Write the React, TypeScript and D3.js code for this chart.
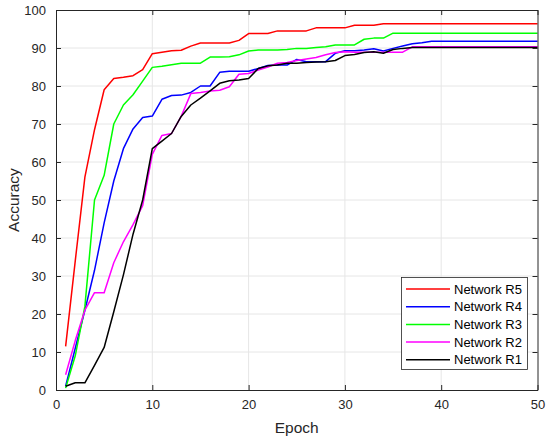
import React, { useRef, useEffect } from 'react';
import * as d3 from 'd3';

const epochs = d3.range(1, 51);

const r5 = [11.5, 34, 56, 68.5, 79, 82, 82.3, 82.7, 84.3, 88.5, 88.9, 89.3, 89.4, 90.5, 91.3, 91.3, 91.3, 91.3, 92, 93.8,
  93.8, 93.8, 94.5, 94.5, 94.5, 94.5, 95.3, 95.3, 95.3, 95.3, 96, 96, 96, 96.4, 96.4, 96.4, 96.4, 96.4, 96.4, 96.4,
  96.4, 96.4, 96.4, 96.4, 96.4, 96.4, 96.4, 96.4, 96.4, 96.4];
const r4 = [1, 11, 21, 31.5, 44, 55, 63.5, 68.7, 71.7, 72.1, 76.5, 77.5, 77.6, 78.3, 80, 80, 83.6, 83.9, 83.9, 83.9,
  84.6, 85.4, 85.5, 85.5, 87, 86.4, 86.4, 86.4, 88.6, 89.3, 89.3, 89.5, 89.8, 89.2, 89.9, 90.5, 91.1, 91.4, 91.8, 91.8,
  91.8, 91.8, 91.8, 91.8, 91.8, 91.8, 91.8, 91.8, 91.8, 91.8];
const r3 = [0.5, 9, 22, 50, 56.5, 70, 75, 77.7, 81.3, 84.9, 85.2, 85.6, 86, 86, 86, 87.6, 87.6, 87.7, 88.2, 89.2,
  89.5, 89.5, 89.5, 89.6, 89.9, 89.9, 90.1, 90.3, 90.8, 90.8, 90.8, 92.3, 92.6, 92.6, 93.9, 93.9, 93.9, 93.9, 93.9, 93.9,
  93.9, 93.9, 93.9, 93.9, 93.9, 93.9, 93.9, 93.9, 93.9, 93.9];
const r2 = [4, 13, 21, 25.6, 25.6, 33.5, 39, 43.5, 48.5, 62, 67, 67.5, 72, 78, 78.3, 78.7, 78.9, 79.8, 83.1, 83.3,
  84.2, 85, 86, 86.2, 86.7, 87.1, 87.5, 88.2, 88.8, 89, 88.9, 88.9, 88.9, 88.9, 88.9, 88.9, 90.3, 90.3, 90.3, 90.3,
  90.3, 90.3, 90.3, 90.3, 90.3, 90.3, 90.3, 90.3, 90.3, 90.3];
const r1 = [1, 1.9, 1.9, 6.5, 11.2, 20.6, 30.3, 41, 50, 63.5, 65.5, 67.5, 72, 75, 76.8, 78.7, 80.7, 81.4, 81.6, 82,
  84.6, 85.3, 85.5, 86, 86, 86.2, 86.3, 86.4, 86.7, 88, 88.3, 88.8, 89, 88.6, 89.6, 89.9, 90.1, 90.1, 90.1, 90.1,
  90.1, 90.1, 90.1, 90.1, 90.1, 90.1, 90.1, 90.1, 90.1, 90.1];

const seriesNames = ['Network R5', 'Network R4', 'Network R3', 'Network R2', 'Network R1'];
const seriesValues = [r5, r4, r3, r2, r1];
const seriesColors = ['#ff0000', '#0000ff', '#00ff00', '#ff00ff', '#000000'];

const xTicks = [0, 10, 20, 30, 40, 50];
const yTicks = d3.range(0, 101, 10);

const FONT = '"Liberation Sans", Arial, Helvetica, sans-serif';
const AXIS = '#262626';

export default function App() {
  const ref = useRef<SVGSVGElement | null>(null);

  useEffect(() => {
    const svg = d3.select(ref.current);
    svg.selectAll('*').remove();

    const W = 550;
    const H = 443;
    const margin = { top: 10, right: 12.5, bottom: 53, left: 56 };
    const width = W - margin.left - margin.right;
    const height = H - margin.top - margin.bottom;

    const x = d3.scaleLinear().domain([0, 50]).range([0, width]);
    const y = d3.scaleLinear().domain([0, 100]).range([height, 0]);

    svg.attr('width', W).attr('height', H);
    svg.append('rect').attr('width', W).attr('height', H).attr('fill', '#fff');

    const chart = svg.append('g').attr('transform', `translate(${margin.left},${margin.top})`);

    // grid
    chart.append('g')
      .selectAll('line')
      .data(xTicks.slice(1, -1))
      .join('line')
      .attr('x1', d => x(d)).attr('x2', d => x(d))
      .attr('y1', 0).attr('y2', height)
      .attr('stroke', '#e6e6e6');
    chart.append('g')
      .selectAll('line')
      .data(yTicks.slice(1, -1))
      .join('line')
      .attr('y1', d => y(d)).attr('y2', d => y(d))
      .attr('x1', 0).attr('x2', width)
      .attr('stroke', '#e6e6e6');

    // lines
    const line = d3.line<number>()
      .x((_, i) => x(epochs[i]))
      .y(d => y(d));
    seriesValues.forEach((vals, i) => {
      chart.append('path')
        .attr('d', line(vals))
        .attr('fill', 'none')
        .attr('stroke', seriesColors[i])
        .attr('stroke-width', 1.5)
        .attr('stroke-linejoin', 'round');
    });

    // axes box with inward ticks on every side
    const tickLen = 5;
    const bottom = chart.append('g').attr('transform', `translate(0,${height})`)
      .call(d3.axisBottom(x).tickValues(xTicks).tickSizeInner(-tickLen).tickSizeOuter(0).tickPadding(10));
    const top = chart.append('g')
      .call(d3.axisTop(x).tickValues(xTicks).tickSizeInner(-tickLen).tickSizeOuter(0).tickFormat(() => ''));
    const left = chart.append('g')
      .call(d3.axisLeft(y).tickValues(yTicks).tickSizeInner(-tickLen).tickSizeOuter(0).tickPadding(10));
    const right = chart.append('g').attr('transform', `translate(${width},0)`)
      .call(d3.axisRight(y).tickValues(yTicks).tickSizeInner(-tickLen).tickSizeOuter(0).tickFormat(() => ''));
    [bottom, top, left, right].forEach(g => {
      g.select('.domain').attr('stroke', AXIS);
      g.selectAll('.tick line').attr('stroke', AXIS);
      g.selectAll('.tick text')
        .attr('fill', AXIS)
        .attr('font-family', FONT)
        .attr('font-size', 13);
    });

    // axis labels
    svg.append('text')
      .attr('x', margin.left + width / 2)
      .attr('y', 433)
      .attr('text-anchor', 'middle')
      .attr('font-family', FONT)
      .attr('font-size', 15.5)
      .attr('fill', AXIS)
      .text('Epoch');
    svg.append('text')
      .attr('transform', `translate(19,${margin.top + height / 2}) rotate(-90)`)
      .attr('text-anchor', 'middle')
      .attr('font-family', FONT)
      .attr('font-size', 15.5)
      .attr('fill', AXIS)
      .text('Accuracy');

    // legend
    const legend = svg.append('g').attr('transform', 'translate(401.5,277.5)');
    legend.append('rect')
      .attr('width', 126)
      .attr('height', 92)
      .attr('fill', '#fff')
      .attr('stroke', AXIS)
      .attr('stroke-width', 0.8);
    const rows = legend.selectAll('g.row')
      .data(seriesNames)
      .join('g')
      .attr('class', 'row')
      .attr('transform', (_, i) => `translate(0,${11.5 + i * 17.7})`);
    rows.append('line')
      .attr('x1', 4.5).attr('x2', 48.5)
      .attr('stroke', (_, i) => seriesColors[i])
      .attr('stroke-width', 1.5);
    rows.append('text')
      .attr('x', 52.5)
      .attr('dy', '0.35em')
      .attr('font-family', FONT)
      .attr('font-size', 13)
      .attr('fill', '#000')
      .text(d => d);
  }, []);

  return <svg ref={ref} style={{ position: 'absolute', left: 0, top: 0, display: 'block' }} />;
}
